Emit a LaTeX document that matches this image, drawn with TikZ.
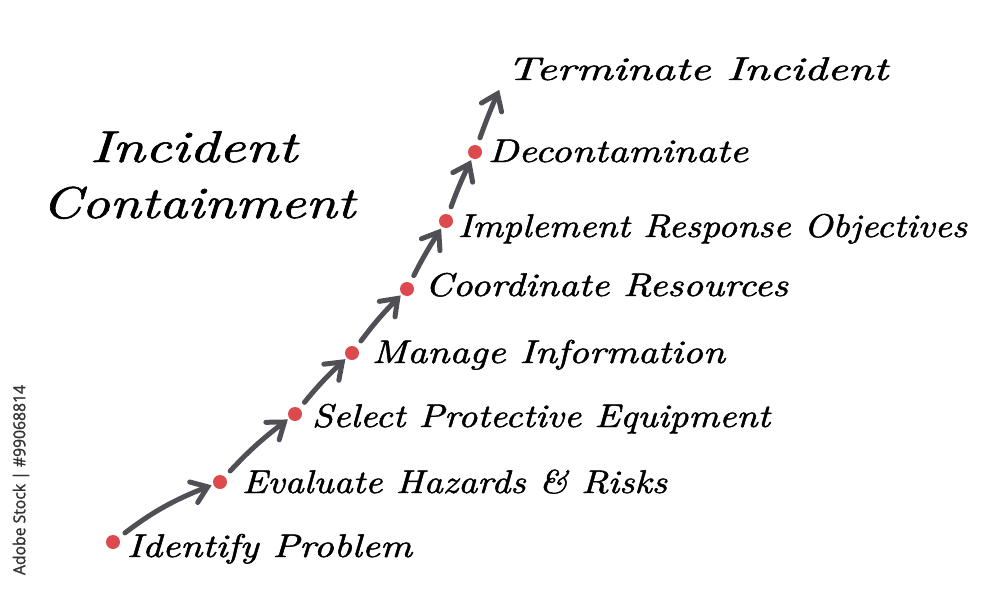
\documentclass[tikz,border=0pt]{standalone}
\usepackage{fontspec}
\newfontfamily\stockfont{Open Sans}[FakeBold=1.5]
\newfontfamily\hand{lmroman10-italic.otf}[FakeBold=1.3]
\usetikzlibrary{arrows.meta}
\newlength\px \setlength\px{0.03cm}
\definecolor{dotred}{HTML}{DC4A4E}
\definecolor{arrgray}{HTML}{4F4F55}
\definecolor{stockgray}{HTML}{333333}
\newcommand\fitw[2]{\resizebox{#1\px}{\height}{#2}}
\begin{document}
\begin{tikzpicture}[x=0.03cm,y=-0.03cm,
  lbl/.style={anchor=base west, inner sep=0pt, outer sep=0pt, font=\hand\fontsize{28}{32}\selectfont},
  ttl/.style={anchor=base west, inner sep=0pt, outer sep=0pt, font=\hand\fontsize{38}{42}\selectfont},
  dot/.style={circle, fill=dotred, inner sep=0pt, minimum size=0.42cm, outer sep=0pt},
  arr/.style={draw=arrgray, line width=0.15cm, line cap=round,
    -{Straight Barb[length=0.45cm,width=0.66cm,line cap=round]},
    shorten <=0.24cm, shorten >=0.06cm}]
\fill[white] (0,0) rectangle (1000,616);
\useasboundingbox (0,0) rectangle (1000,616);

% dots
\node[dot] (d1) at (113,542) {};
\node[dot] (d2) at (220,482) {};
\node[dot] (d3) at (295,414) {};
\node[dot] (d4) at (352,353) {};
\node[dot] (d5) at (407,289) {};
\node[dot] (d6) at (446,221) {};
\node[dot] (d7) at (475,152) {};
\coordinate (tip) at (500,88);

% arrows
\draw[arr] (d1) to[bend left=8] (d2);
\draw[arr] (d2) to[bend left=5] (d3);
\draw[arr] (d3) to[bend left=4] (d4);
\draw[arr] (d4) to[bend left=4] (d5);
\draw[arr] (d5) to[bend left=3] (d6);
\draw[arr] (d6) to[bend left=3] (d7);
\draw[arr] (d7) to[bend left=2] (tip);

% labels
\node[lbl] (l1) at (127,557) {\fitw{285}{Identify Problem}};
\node[lbl] (l2) at (242,493) {\fitw{425}{Evaluate Hazards \& Risks}};
\node[lbl] (l3) at (312,427) {\fitw{458}{Select Protective Equipment}};
\node[lbl] (l4) at (372,363) {\fitw{353}{Manage Information}};
\node[lbl] (l5) at (425,296) {\fitw{363}{Coordinate Resources}};
\node[lbl] (l6) at (458,237) {\fitw{509}{Implement Response Objectives}};
\node[lbl] (l7) at (488,162) {\fitw{260}{Decontaminate}};
\node[lbl] (l8) at (507,80) {\fitw{381}{Terminate Incident}};

% title
\node[ttl] (t1) at (90,162) {\fitw{207}{Incident}};
\node[ttl] (t2) at (42,218) {\fitw{313}{Containment}};

% side credit
\node[rotate=90, inner sep=0pt, text=stockgray, font=\stockfont\fontsize{14}{16}\selectfont] (stock) at (21,480) {\fitw{190}{Adobe Stock | \#99068814}};
\end{tikzpicture}
\end{document}
